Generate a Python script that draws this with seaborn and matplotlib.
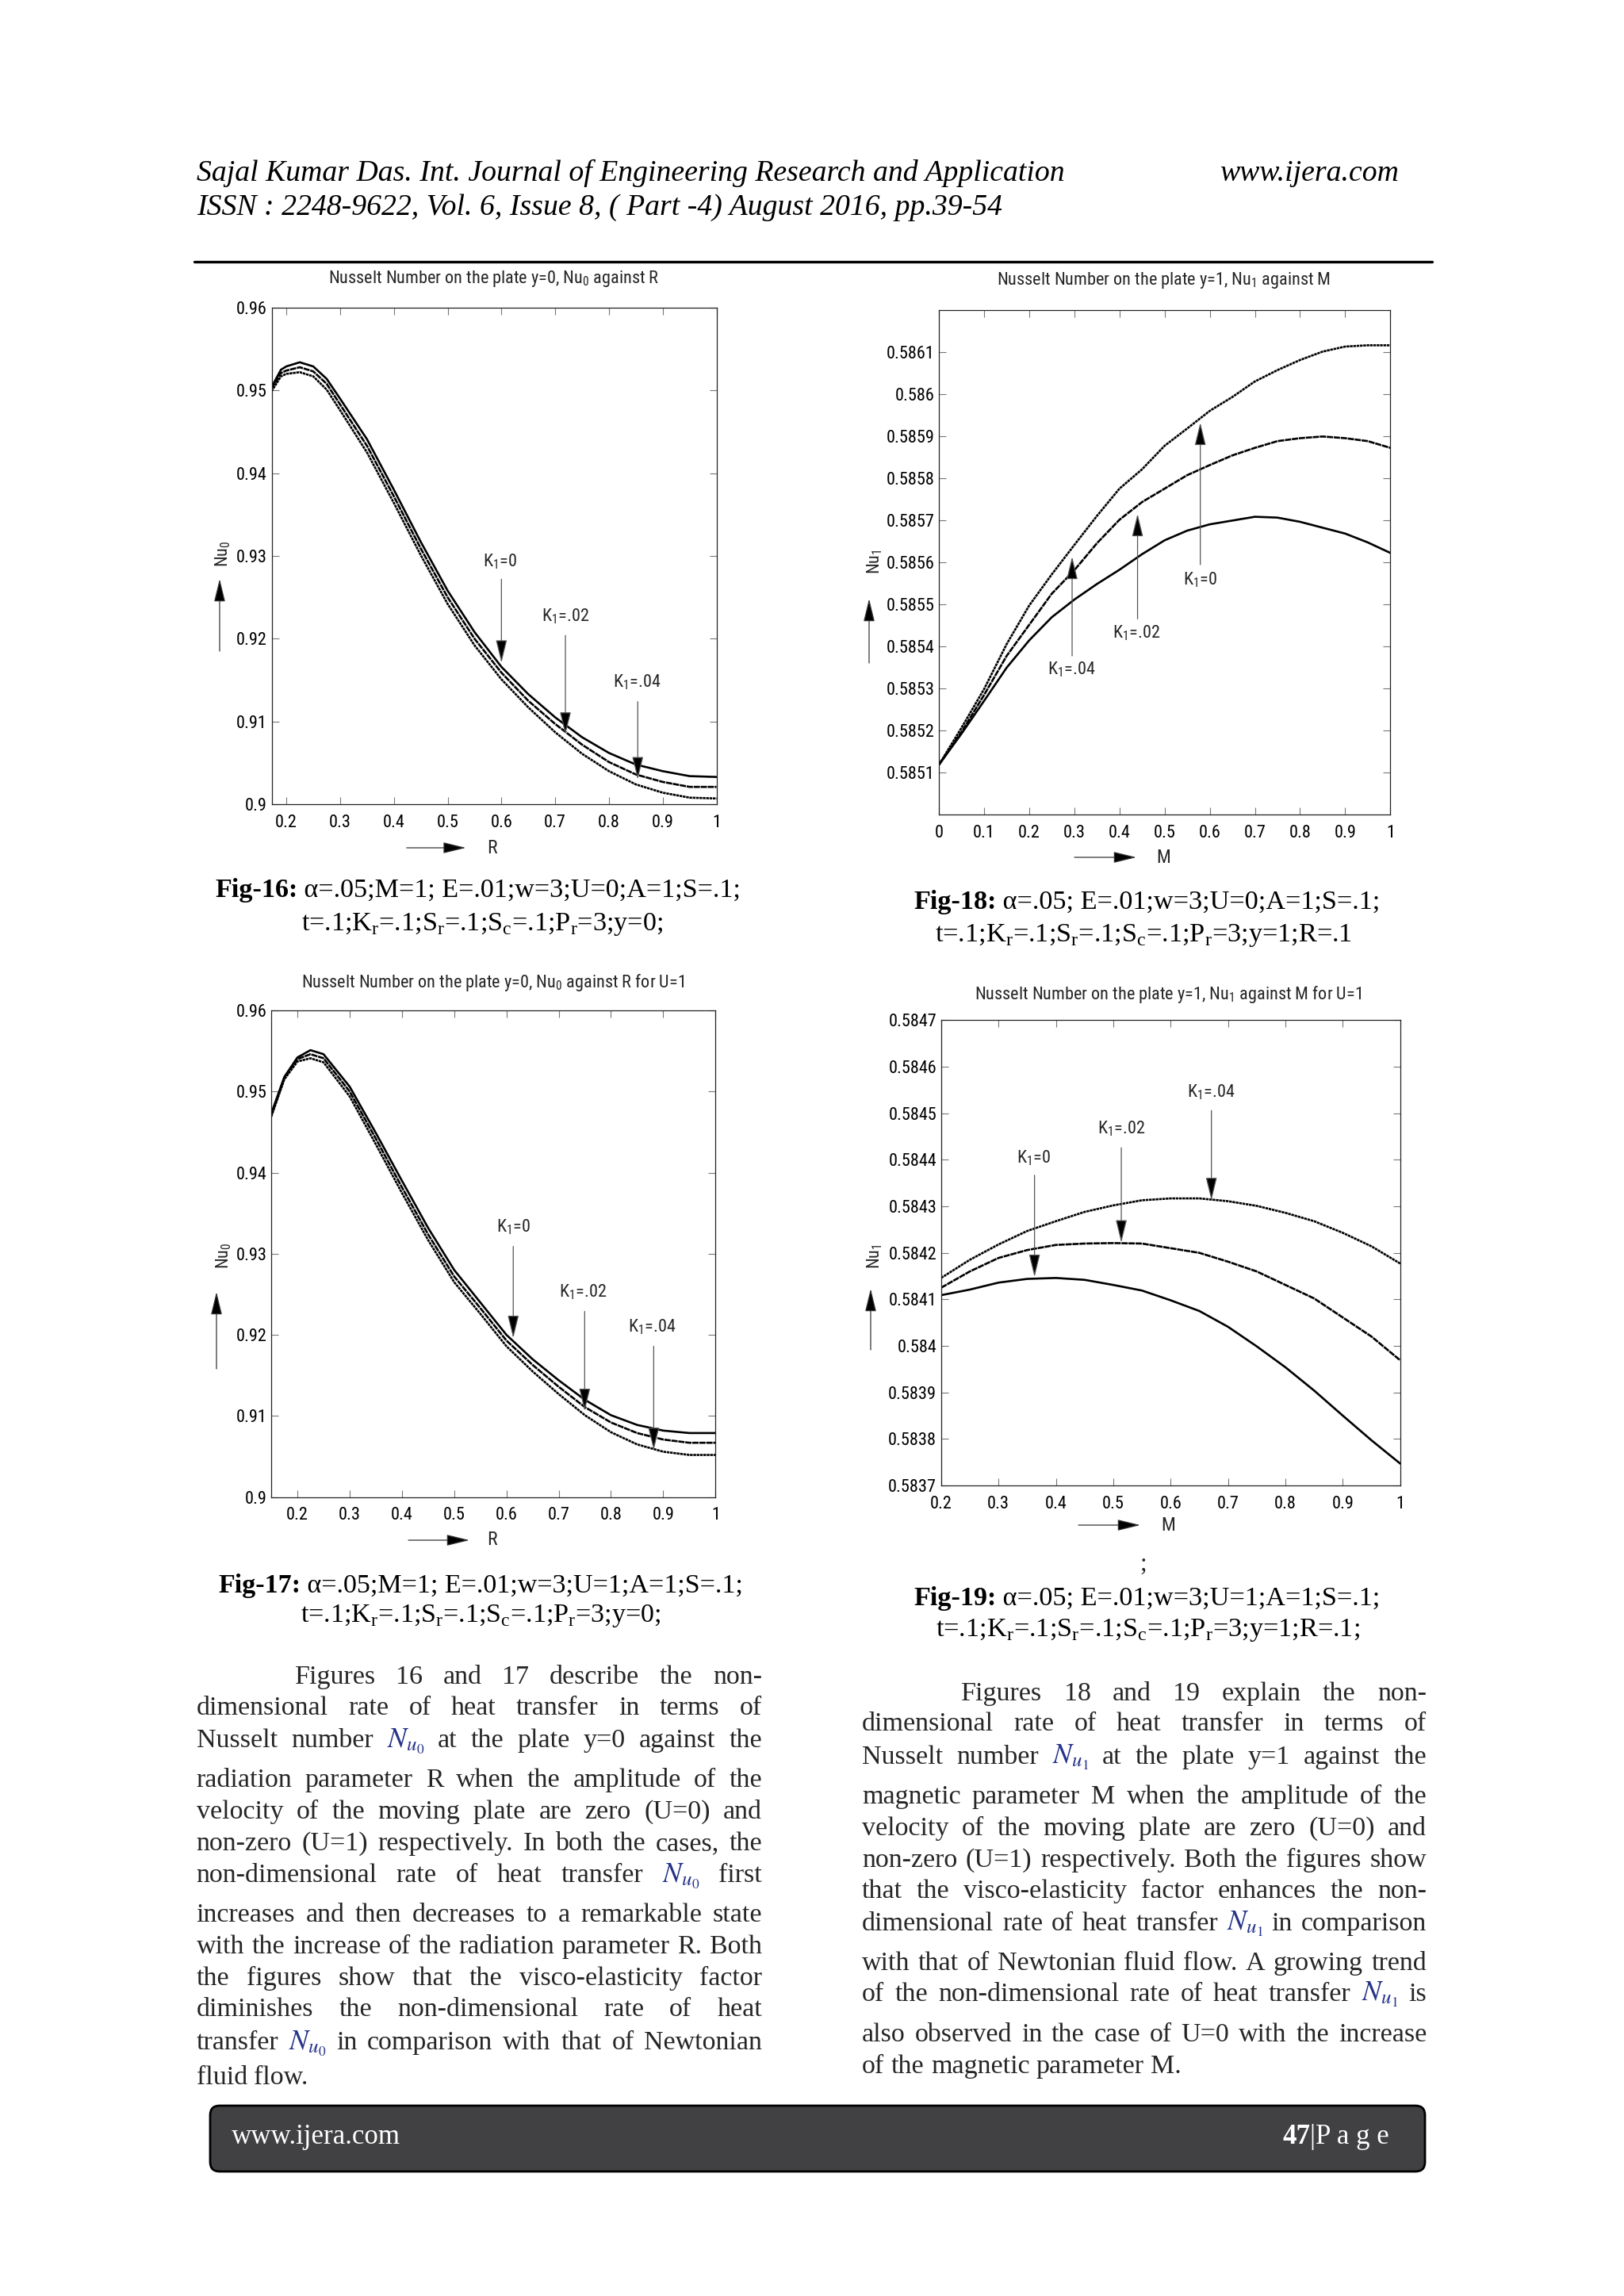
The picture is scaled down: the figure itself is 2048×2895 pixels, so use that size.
import os
import numpy as np
import pandas as pd
import matplotlib
matplotlib.use("Agg")
import matplotlib.pyplot as plt
import seaborn as sns
from matplotlib import font_manager as fm
from matplotlib.font_manager import FontProperties
from matplotlib.patches import FancyArrowPatch, FancyBboxPatch
from matplotlib.lines import Line2D
from matplotlib.transforms import IdentityTransform

# ---------------------------------------------------------------- data
# Fig-16 : Nu0 against R (U=0)
R16 = [0.1726, 0.19, 0.2, 0.225, 0.25, 0.275, 0.3, 0.35, 0.4, 0.45, 0.5,
       0.55, 0.6, 0.65, 0.7, 0.75, 0.8, 0.85, 0.9, 0.95, 1.0]
nu0_16_k0 = [0.9504, 0.9525, 0.9529, 0.9534, 0.9529, 0.9514, 0.9490, 0.9441, 0.9380, 0.9317, 0.9258,
             0.9208, 0.9166, 0.9133, 0.9105, 0.9081, 0.9062, 0.9048, 0.9040, 0.9034, 0.9033]
nu0_16_k02 = [0.9502, 0.9521, 0.9524, 0.9528, 0.9523, 0.9508, 0.9483, 0.9433, 0.9372, 0.9309, 0.9250,
              0.9200, 0.9159, 0.9125, 0.9097, 0.9072, 0.9051, 0.9036, 0.9027, 0.9021, 0.9021]
nu0_16_k04 = [0.9499, 0.9517, 0.9520, 0.9522, 0.9517, 0.9501, 0.9476, 0.9425, 0.9364, 0.9301, 0.9242,
              0.9192, 0.9151, 0.9117, 0.9087, 0.9061, 0.9040, 0.9024, 0.9014, 0.9008, 0.9007]

# Fig-17 : Nu0 against R (U=1)
R17 = [0.15, 0.175, 0.2, 0.225, 0.25, 0.3, 0.35, 0.4, 0.45, 0.5,
       0.55, 0.6, 0.65, 0.7, 0.75, 0.8, 0.85, 0.9, 0.95, 1.0]
nu0_17_k0 = [0.9473, 0.9518, 0.9542, 0.9551, 0.9546, 0.9506, 0.9449, 0.9390, 0.9332, 0.9280,
             0.9240, 0.9200, 0.9170, 0.9144, 0.9120, 0.9101, 0.9089, 0.9082, 0.9079, 0.9079]
nu0_17_k02 = [0.9471, 0.9517, 0.9540, 0.9546, 0.9541, 0.9500, 0.9442, 0.9382, 0.9324, 0.9272,
              0.9233, 0.9193, 0.9163, 0.9136, 0.9111, 0.9092, 0.9079, 0.9071, 0.9067, 0.9067]
nu0_17_k04 = [0.9469, 0.9515, 0.9537, 0.9541, 0.9536, 0.9494, 0.9435, 0.9375, 0.9317, 0.9265,
              0.9226, 0.9186, 0.9155, 0.9127, 0.9101, 0.9080, 0.9065, 0.9056, 0.9052, 0.9052]

# Fig-18 : Nu1 against M (U=0)
M18 = [0.0, 0.05, 0.1, 0.15, 0.2, 0.25, 0.3, 0.35, 0.4, 0.45, 0.5,
       0.55, 0.6, 0.65, 0.7, 0.75, 0.8, 0.85, 0.9, 0.95, 1.0]
nu1_18_top = [0.585119, 0.585207, 0.585299, 0.585406, 0.585498, 0.585572, 0.585642, 0.585711, 0.585776,
              0.585822, 0.585878, 0.585919, 0.585961, 0.585994, 0.586031, 0.586058, 0.586082, 0.586102,
              0.586114, 0.586117, 0.586117]
nu1_18_mid = [0.585119, 0.585197, 0.585285, 0.585378, 0.585452, 0.585526, 0.585582, 0.585646, 0.585702,
              0.585744, 0.585776, 0.585808, 0.585832, 0.585855, 0.585873, 0.585889, 0.585896, 0.585900,
              0.585896, 0.585889, 0.585873]
nu1_18_bot = [0.585119, 0.585193, 0.585271, 0.585350, 0.585415, 0.585470, 0.585512, 0.585549, 0.585583,
              0.585620, 0.585653, 0.585676, 0.585691, 0.585700, 0.585709, 0.585707, 0.585697, 0.585683,
              0.585669, 0.585648, 0.585623]

# Fig-19 : Nu1 against M (U=1)
M19 = [0.2, 0.25, 0.3, 0.35, 0.4, 0.45, 0.5, 0.55, 0.6, 0.65, 0.7, 0.75, 0.8, 0.85, 0.9, 0.95, 1.0]
nu1_19_k04 = [0.584146, 0.584185, 0.584218, 0.584247, 0.584268, 0.584288, 0.584302, 0.584313, 0.584317,
              0.584317, 0.584311, 0.584301, 0.584286, 0.584268, 0.584243, 0.584214, 0.584177]
nu1_19_k02 = [0.584125, 0.584160, 0.584189, 0.584206, 0.584217, 0.584220, 0.584221, 0.584220, 0.584210,
              0.584200, 0.584181, 0.584160, 0.584131, 0.584102, 0.584061, 0.584020, 0.583969]
nu1_19_k0 = [0.584109, 0.584121, 0.584136, 0.584144, 0.584146, 0.584142, 0.584131, 0.584119, 0.584098,
             0.584075, 0.584041, 0.583999, 0.583954, 0.583904, 0.583850, 0.583797, 0.583747]

k_labels = ["K$_{\\mathregular{1}}$=0", "K$_{\\mathregular{1}}$=.02", "K$_{\\mathregular{1}}$=.04"]

xt_R = [0.2, 0.3, 0.4, 0.5, 0.6, 0.7, 0.8, 0.9, 1.0]
xt_R_lab = ["0.2", "0.3", "0.4", "0.5", "0.6", "0.7", "0.8", "0.9", "1"]
yt_nu0 = [0.90, 0.91, 0.92, 0.93, 0.94, 0.95, 0.96]
yt_nu0_lab = ["0.9", "0.91", "0.92", "0.93", "0.94", "0.95", "0.96"]
xt_M18 = [0.0, 0.1, 0.2, 0.3, 0.4, 0.5, 0.6, 0.7, 0.8, 0.9, 1.0]
xt_M18_lab = ["0", "0.1", "0.2", "0.3", "0.4", "0.5", "0.6", "0.7", "0.8", "0.9", "1"]
yt_18 = [0.5851, 0.5852, 0.5853, 0.5854, 0.5855, 0.5856, 0.5857, 0.5858, 0.5859, 0.5860, 0.5861]
yt_18_lab = ["0.5851", "0.5852", "0.5853", "0.5854", "0.5855", "0.5856", "0.5857", "0.5858",
             "0.5859", "0.586", "0.5861"]
yt_19 = [0.5837, 0.5838, 0.5839, 0.5840, 0.5841, 0.5842, 0.5843, 0.5844, 0.5845, 0.5846, 0.5847]
yt_19_lab = ["0.5837", "0.5838", "0.5839", "0.584", "0.5841", "0.5842", "0.5843", "0.5844",
             "0.5845", "0.5846", "0.5847"]

# ---------------------------------------------------------------- fonts
sns.set_theme(style="ticks")
plt.rcParams["font.family"] = ["Liberation Sans", "DejaVu Sans"]
plt.rcParams["axes.grid"] = False
SERIF = "Liberation Serif"


def find_narrow():
    prefs = ["liberationsansnarrow-regular", "robotocondensed-regular", "roboto_condensed-regular",
             "dejavusanscondensed.", "notosans-condensed.", "notosanscondensed-regular",
             "opensans-condensed", "opensans_condensed-regular", "arialn."]
    files = [f.fname for f in fm.fontManager.ttflist]
    for p in prefs:
        for fn in files:
            if p in os.path.basename(fn).lower():
                return fn
    for fn in files:
        b = os.path.basename(fn).lower()
        if ("condensed" in b or "narrow" in b) and not any(k in b for k in
                                                             ["bold", "italic", "oblique", "mono", "serif", "light", "thin", "black", "medium", "semi", "extra"]):
            return fn
    return None


NARROW = find_narrow()
TS = 16 if NARROW else 13.5


def SF(size=TS):
    if NARROW:
        return FontProperties(fname=NARROW, size=size)
    return FontProperties(family="Liberation Sans", size=size)


W, H = 2048, 2895
fig = plt.figure(figsize=(W / 100, H / 100), dpi=100)
fig.patch.set_facecolor("white")
renderer = fig.canvas.get_renderer()


def F(x, y):
    return (x / W, 1 - y / H)


def add_axes_px(l, t, r, b):
    return fig.add_axes([l / W, 1 - b / H, (r - l) / W, (b - t) / H])


ARROW = "-|>,head_length=0.9,head_width=0.22"


def fig_arrow(x0, y0, x1, y1):
    a = FancyArrowPatch(F(x0, y0), F(x1, y1), transform=fig.transFigure,
                        arrowstyle=ARROW, mutation_scale=20,
                        lw=0.9, ec="#333333", fc="black", shrinkA=0, shrinkB=0)
    fig.add_artist(a)


def setup_axes(ax, xlim, ylim, xt, xtl, yt, ytl):
    ax.set_xlim(*xlim)
    ax.set_ylim(*ylim)
    ax.set_xticks(xt, labels=xtl)
    ax.set_yticks(yt, labels=ytl)
    ax.tick_params(direction="in", length=6.5, width=0.8, color="#777777",
                   top=True, right=True, labelcolor="black")
    ax.tick_params(axis="x", pad=9)
    ax.tick_params(axis="y", pad=4)
    for s in ax.spines.values():
        s.set_visible(True)
        s.set_color("#222222")
        s.set_linewidth(0.9)
    ax.set_xlabel("")
    ax.set_ylabel("")
    for lab in ax.get_xticklabels() + ax.get_yticklabels():
        lab.set_fontproperties(SF())


SOLID = "-"
DASH = (0, (3.0, 0.35))
DOT = (0, (1.3, 0.3))


def draw(ax, x, curves, styles):
    for y, ls in zip(curves, styles):
        sns.lineplot(x=x, y=y, ax=ax, color="black", lw=1.9, linestyle=ls,
                     estimator=None, sort=False)


def annot(ax, label, tx, ty, ax_x, tail, tip):
    ax.text(tx, ty, label, ha="center", va="center", fontproperties=SF())
    ax.annotate("", xy=(ax_x, tip), xytext=(ax_x, tail),
                arrowprops=dict(arrowstyle=ARROW, mutation_scale=20, lw=0.9,
                                ec="#555555", fc="black", shrinkA=0, shrinkB=0))


def labels(title, tpos, xl, xpos, xarr, ylab, ypos, yarr):
    fig.text(*F(*tpos), title, ha="center", va="center", fontproperties=SF())
    fig.text(*F(*xpos), xl, ha="center", va="center", fontproperties=SF(TS + 1))
    fig_arrow(*xarr)
    fig.text(*F(*ypos), ylab, rotation=90, ha="center", va="center", fontproperties=SF())
    fig_arrow(*yarr)


NU0 = "Nu$_{\\mathregular{0}}$"
NU1 = "Nu$_{\\mathregular{1}}$"

# ---------------------------------------------------------------- Fig-16
ax1 = add_axes_px(342.5, 387.9, 903.6, 1014.1)
draw(ax1, R16, [nu0_16_k0, nu0_16_k02, nu0_16_k04], [SOLID, DASH, DOT])
setup_axes(ax1, (0.1726, 1.0), (0.90, 0.96), xt_R, xt_R_lab, yt_nu0, yt_nu0_lab)
annot(ax1, k_labels[0], 0.598, 0.9293, 0.600, 0.9272, 0.9171)
annot(ax1, k_labels[1], 0.719, 0.9227, 0.719, 0.9204, 0.9084)
annot(ax1, k_labels[2], 0.852, 0.9147, 0.8535, 0.9124, 0.9030)
labels("Nusselt Number on the plate y=0, " + NU0 + " against R", (623, 352),
       "R", (620.6, 1069), (512.8, 1069, 587.6, 1069),
       NU0, (281, 698), (277, 821, 277, 730))

# ---------------------------------------------------------------- Fig-18
ax2 = add_axes_px(1184.1, 391.4, 1753.3, 1027.3)
draw(ax2, M18, [nu1_18_top, nu1_18_mid, nu1_18_bot], [DOT, DASH, SOLID])
setup_axes(ax2, (0.0, 1.0), (0.5850, 0.58620), xt_M18, xt_M18_lab, yt_18, yt_18_lab)
annot(ax2, k_labels[0], 0.579, 0.585558, 0.579, 0.585595, 0.585933)
annot(ax2, k_labels[1], 0.437, 0.585433, 0.440, 0.585466, 0.585716)
annot(ax2, k_labels[2], 0.293, 0.585345, 0.295, 0.585378, 0.585614)
labels("Nusselt Number on the plate y=1, " + NU1 + " against M", (1468, 354),
       "M", (1466.7, 1081), (1355, 1081, 1433, 1081),
       NU1, (1103, 708), (1096, 836, 1096, 755))

# ---------------------------------------------------------------- Fig-17
ax3 = add_axes_px(342.1, 1274.0, 902.3, 1887.7)
draw(ax3, R17, [nu0_17_k0, nu0_17_k02, nu0_17_k04], [SOLID, DASH, DOT])
setup_axes(ax3, (0.15, 1.0), (0.90, 0.96), xt_R, xt_R_lab, yt_nu0, yt_nu0_lab)
annot(ax3, k_labels[0], 0.613, 0.9333, 0.613, 0.9309, 0.9196)
annot(ax3, k_labels[1], 0.746, 0.9253, 0.7497, 0.9229, 0.9106)
annot(ax3, k_labels[2], 0.878, 0.9210, 0.8818, 0.9186, 0.9058)
labels("Nusselt Number on the plate y=0, " + NU0 + " against R for U=1", (622, 1239),
       "R", (620.6, 1942), (515, 1942, 592, 1942),
       NU0, (282, 1583), (273, 1726, 273, 1629))

# ---------------------------------------------------------------- Fig-19
ax4 = add_axes_px(1186.8, 1286.4, 1765.8, 1873.0)
draw(ax4, M19, [nu1_19_k04, nu1_19_k02, nu1_19_k0], [DOT, DASH, SOLID])
setup_axes(ax4, (0.2, 1.0), (0.5837, 0.5847), xt_R, xt_R_lab, yt_19, yt_19_lab)
annot(ax4, k_labels[0], 0.3616, 0.584404, 0.3628, 0.584367, 0.584148)
annot(ax4, k_labels[1], 0.514, 0.584466, 0.514, 0.584426, 0.584222)
annot(ax4, k_labels[2], 0.670, 0.584545, 0.671, 0.584506, 0.584313)
labels("Nusselt Number on the plate y=1, " + NU1 + " against M for U=1", (1473, 1254),
       "M", (1473, 1923), (1360, 1923, 1438, 1923),
       NU1, (1103, 1584), (1098, 1702, 1098, 1625))

fig.text(*F(1442, 1972), ";", ha="center", va="center", fontsize=22, family=SERIF)

# ---------------------------------------------------------------- text helpers


def width(t):
    return t.get_window_extent(renderer).width


def segments(segs, yb, size, x0=None, x1=None, xc=None, fit=False, color="black", family=SERIF):
    ts = [fig.text(0, 0, s, fontsize=size, family=family, va="baseline", ha="left",
                   color=color, **kw) for s, kw in segs]
    ws = [width(t) for t in ts]
    if fit:
        sc = (x1 - x0) / sum(ws)
        for t in ts:
            t.set_fontsize(t.get_fontsize() * sc)
        ws = [width(t) for t in ts]
    tot = sum(ws)
    if xc is not None:
        x = xc - tot / 2
    elif x0 is not None:
        x = x0
    else:
        x = x1 - tot
    for t, w in zip(ts, ws):
        t.set_position(F(x, yb))
        x += w
    return ts


# header
hdr = segments([("Sajal Kumar Das. Int. Journal of Engineering Research and Application",
                 dict(style="italic"))], 228, 24, x0=248, x1=1344, fit=True)
hsize = hdr[0].get_fontsize()
segments([("www.ijera.com", dict(style="italic"))], 228, hsize, x1=1764)
segments([("ISSN : 2248-9622, Vol. 6, Issue 8, ( Part -4) August 2016, pp.39-54",
           dict(style="italic"))], 271, hsize, x0=248)
fig.add_artist(Line2D([245 / W, 1806 / W], [1 - 330 / H] * 2, transform=fig.transFigure,
                      color="black", lw=2.4))

# captions
SUBR = "K$_{\\mathregular{r}}$=.1;S$_{\\mathregular{r}}$=.1;S$_{\\mathregular{c}}$=.1;P$_{\\mathregular{r}}$=3;"
captions = [
    ("Fig-16:", " \u03b1=.05;M=1; E=.01;w=3;U=0;A=1;S=.1;", "t=.1;" + SUBR + "y=0;",
     271, 934, 608, 1131, 1173),
    ("Fig-18:", " \u03b1=.05; E=.01;w=3;U=0;A=1;S=.1;", "t=.1;" + SUBR + "y=1;R=.1",
     1152, 1742, 1442, 1146, 1187),
    ("Fig-17:", " \u03b1=.05;M=1; E=.01;w=3;U=1;A=1;S=.1;", "t=.1;" + SUBR + "y=0;",
     275, 935, 606, 2008, 2045),
    ("Fig-19:", " \u03b1=.05; E=.01;w=3;U=1;A=1;S=.1;", "t=.1;" + SUBR + "y=1;R=.1;",
     1152, 1742, 1447, 2024, 2063),
]
for bold, rest, line2, x0, x1, xc2, yb1, yb2 in captions:
    ts = segments([(bold, dict(weight="bold")), (rest, {})], yb1, 22, x0=x0, x1=x1, fit=True)
    segments([(line2, {})], yb2, ts[1].get_fontsize(), xc=xc2)

# paragraphs
NUCOL = "#26338a"


def paragraph(lines, x0, x1, indent, baselines, size):
    rows = []
    for line in lines:
        row = []
        for w in line.split(" "):
            if w.startswith("$"):
                t = fig.text(0, 0, w, fontsize=size * 1.05, family=SERIF, math_fontfamily="stix",
                             color=NUCOL, va="baseline", ha="left")
            else:
                t = fig.text(0, 0, w, fontsize=size, family=SERIF, va="baseline", ha="left")
            row.append(t)
        rows.append(row)
    em = size * 100 / 72
    ratios = []
    for i, row in enumerate(rows[:-1]):
        start = indent if i == 0 else x0
        need = sum(width(t) for t in row) + (len(row) - 1) * 0.2 * em
        ratios.append((x1 - start) / need)
    sc = min(1.0, min(ratios))
    if sc < 1.0:
        for row in rows:
            for t in row:
                t.set_fontsize(t.get_fontsize() * sc)
    em *= sc
    for i, (row, yb) in enumerate(zip(rows, baselines)):
        start = indent if i == 0 else x0
        ws = [width(t) for t in row]
        if i < len(rows) - 1 and len(row) > 1:
            gap = (x1 - start - sum(ws)) / (len(row) - 1)
        else:
            gap = 0.25 * em
        x = start
        for t, w in zip(row, ws):
            t.set_position(F(x, yb))
            x += w + gap


left_lines = [
    "Figures 16 and 17 describe the non-",
    "dimensional rate of heat transfer in terms of",
    "Nusselt number $N_{u_0}$ at the plate y=0 against the",
    "radiation parameter R when the amplitude of the",
    "velocity of the moving plate are zero (U=0) and",
    "non-zero (U=1) respectively. In both the cases, the",
    "non-dimensional rate of heat transfer $N_{u_0}$ first",
    "increases and then decreases to a remarkable state",
    "with the increase of the radiation parameter R. Both",
    "the figures show that the visco-elasticity factor",
    "diminishes the non-dimensional rate of heat",
    "transfer $N_{u_0}$ in comparison with that of Newtonian",
    "fluid flow.",
]
left_base = [2123, 2162, 2203, 2253, 2293, 2333, 2373, 2423, 2463, 2503, 2542, 2584, 2628]
right_lines = [
    "Figures 18 and 19 explain the non-",
    "dimensional rate of heat transfer in terms of",
    "Nusselt number $N_{u_1}$ at the plate y=1 against the",
    "magnetic parameter M when the amplitude of the",
    "velocity of the moving plate are zero (U=0) and",
    "non-zero (U=1) respectively. Both the figures show",
    "that the visco-elasticity factor enhances the non-",
    "dimensional rate of heat transfer $N_{u_1}$ in comparison",
    "with that of Newtonian fluid flow. A growing trend",
    "of the non-dimensional rate of heat transfer $N_{u_1}$ is",
    "also observed in the case of U=0 with the increase",
    "of the magnetic parameter M.",
]
right_base = [2144, 2182, 2224, 2274, 2314, 2354, 2393, 2434, 2484, 2523, 2574, 2614]
paragraph(left_lines, 247.6, 961, 371.6, left_base, 24.5)
paragraph(right_lines, 1087, 1799, 1212.4, right_base, 24.5)

# footer
box = FancyBboxPatch((265, H - 2738), 1532, 83, boxstyle="round,pad=0,rounding_size=12",
                     transform=IdentityTransform(), fc="#414042", ec="black", lw=2.0)
fig.add_artist(box)
ft = segments([("www.ijera.com", {})], 2703, 22, x0=292, x1=504, fit=True, color="white")
fsize = ft[0].get_fontsize()
segments([("47", dict(weight="bold")), ("|P a g e", {})], 2703, fsize, x1=1752, color="white")

fig.savefig("out.png", dpi=100, facecolor="white")
